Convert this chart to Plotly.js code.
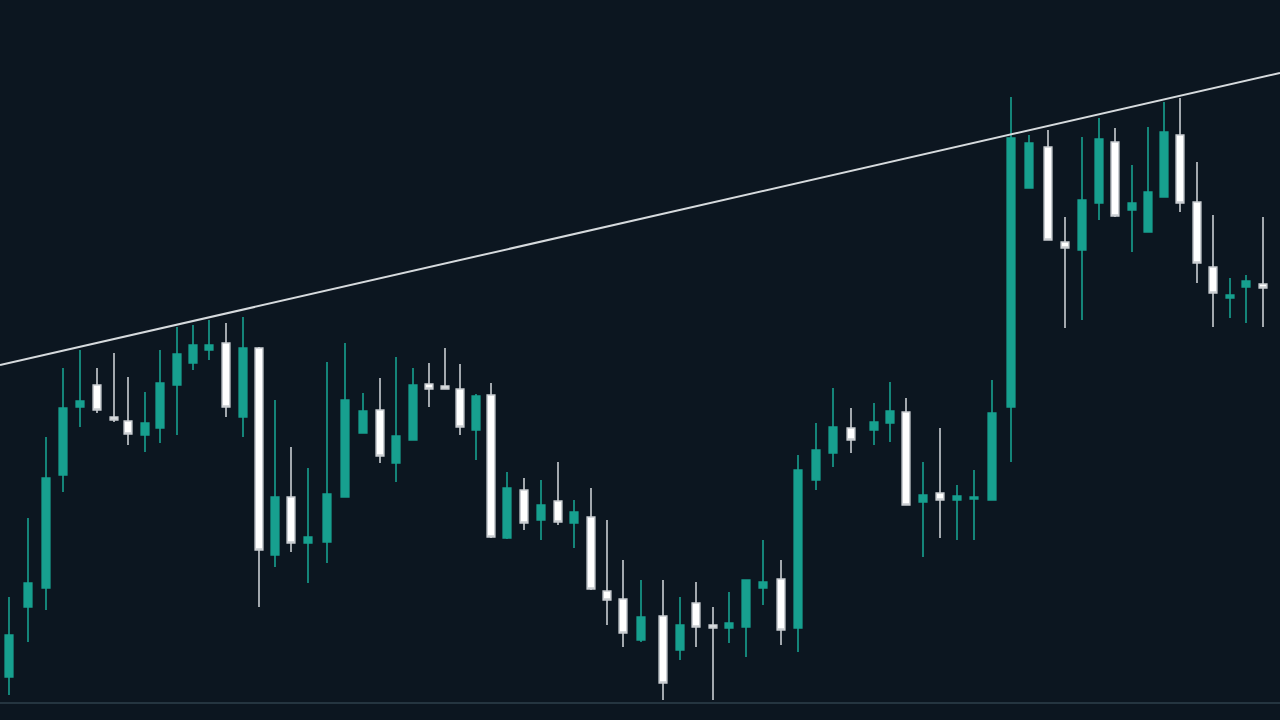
<!DOCTYPE html>
<html>
<head>
<meta charset="utf-8">
<script src="https://cdn.plot.ly/plotly-3.0.1.min.js"></script>
<style>
html,body{margin:0;padding:0;background:#0c1620;}
#chart{width:1280px;height:720px;}
</style>
</head>
<body>
<div id="chart"></div>
<script>
// Time positions of each candle
const t = [9,28,46,63,80,97,114,128,145,160,177,193,209,226,243,259,275,291,308,327,345,363,380,396,413,429,445,460,476,491,507,524,541,558,574,591,607,623,641,663,680,696,713,729,746,763,781,798,816,833,851,874,890,906,923,940,957,974,992,1011,1029,1048,1065,1082,1099,1115,1132,1148,1164,1180,1197,1213,1230,1246,1263];
const open  = [43,113,132,245,313,335,303,299,285,292,335,357,370,377,303,372,165,223,177,178,223,287,310,257,280,336,334,331,290,325,182,230,200,219,197,203,129,121,80,104,70,117,95,92,93,132,141,92,240,267,292,290,297,308,218,227,220,221,220,313,532,573,478,470,517,578,510,488,523,585,518,453,422,433,436];
const high  = [123,202,283,352,370,352,367,343,328,370,393,395,400,397,403,373,320,273,252,358,377,327,342,363,352,357,372,356,326,337,248,242,240,258,220,232,200,160,140,140,123,138,113,128,140,180,160,265,297,332,312,317,338,322,258,292,235,250,340,623,585,590,503,583,602,592,555,593,618,622,558,505,442,445,503];
const low   = [25,78,110,228,293,307,298,275,268,277,285,350,360,303,283,113,153,168,137,157,223,287,257,238,280,313,331,285,260,182,181,190,180,195,172,130,95,73,78,20,60,73,20,77,63,115,75,68,230,253,267,275,278,215,163,182,180,180,220,258,532,480,392,400,500,503,468,488,523,508,437,393,402,397,393];
const close = [85,137,242,312,319,310,300,286,297,337,366,375,375,313,372,170,223,177,183,226,320,309,264,284,335,331,331,293,324,183,232,197,215,198,208,131,120,87,103,37,95,93,92,97,140,138,90,250,270,293,280,298,309,215,225,220,224,223,307,582,577,480,472,520,581,504,517,528,588,517,457,427,425,439,432];

// Resistance trend line end points
const trendT = [0, 1280];
const trendP = [355, 647];

const teal = '#17a08f';
const data = [
  {
    type: 'candlestick',
    x: t, open: open, high: high, low: low, close: close,
    increasing: {line: {color: teal, width: 1.6}, fillcolor: teal},
    decreasing: {line: {color: '#c9cdd1', width: 1.6}, fillcolor: '#ffffff'},
    whiskerwidth: 0,
    hoverinfo: 'skip',
    showlegend: false
  },
  {
    type: 'scatter', mode: 'lines',
    x: trendT, y: trendP,
    line: {color: '#d6dadd', width: 2},
    hoverinfo: 'skip',
    showlegend: false
  }
];

const layout = {
  width: 1280, height: 720,
  margin: {l: 0, r: 0, t: 0, b: 18},
  paper_bgcolor: '#0c1620',
  plot_bgcolor: '#0c1620',
  boxgap: 0.22,
  xaxis: {
    range: [0, 1280],
    showgrid: false, zeroline: false, showticklabels: false, ticks: '',
    showline: true, linecolor: '#253540', linewidth: 2,
    rangeslider: {visible: false},
    fixedrange: true
  },
  yaxis: {
    range: [18, 720],
    showgrid: false, zeroline: false, showticklabels: false, ticks: '',
    showline: false,
    fixedrange: true
  },
  showlegend: false
};

Plotly.newPlot('chart', data, layout, {displayModeBar: false, staticPlot: true});
</script>
</body>
</html>
